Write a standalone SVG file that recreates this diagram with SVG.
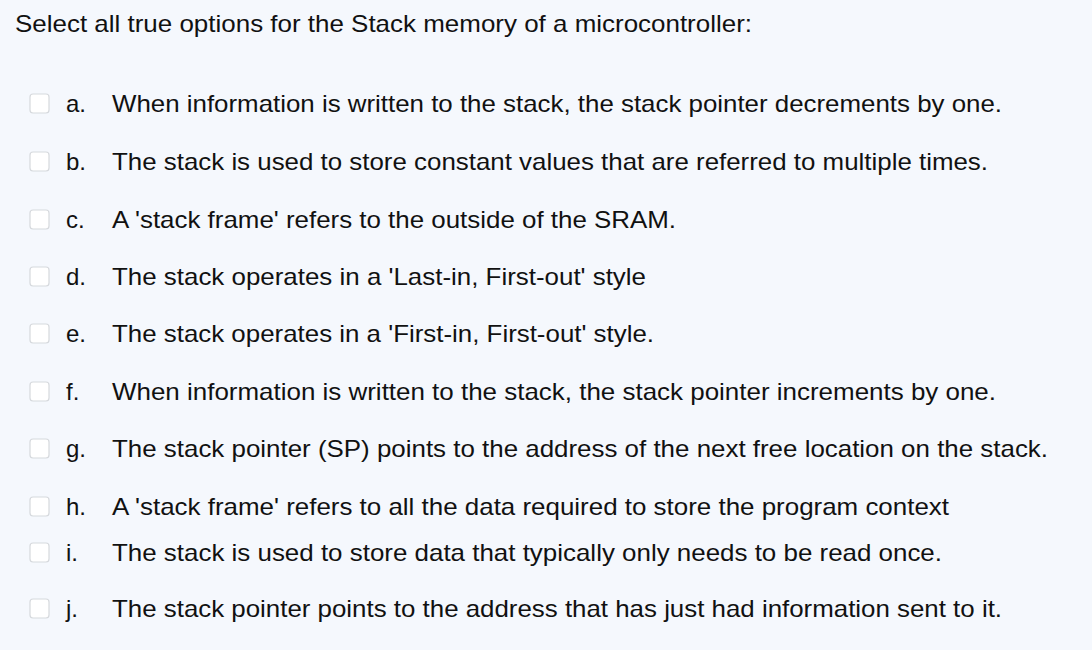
<svg xmlns="http://www.w3.org/2000/svg" width="1092" height="650" viewBox="0 0 1092 650">
<style>
text{font-family:"Liberation Sans",Arial,sans-serif;font-size:24px;fill:#111}
.cb{fill:#fff;stroke:#d6d9dd;stroke-width:1.2}
</style>
<rect width="1092" height="650" fill="#f5f8fd"/>
<text x="15" y="32" textLength="737" lengthAdjust="spacingAndGlyphs">Select all true options for the Stack memory of a microcontroller:</text>
<g id="a"><rect class="cb" x="30" y="94" width="19" height="19" rx="3"/><text x="66" y="112">a.</text><text x="112" y="112" textLength="890" lengthAdjust="spacingAndGlyphs">When information is written to the stack, the stack pointer decrements by one.</text></g>
<g id="b"><rect class="cb" x="30" y="152" width="19" height="19" rx="3"/><text x="66" y="170">b.</text><text x="112" y="170" textLength="876" lengthAdjust="spacingAndGlyphs">The stack is used to store constant values that are referred to multiple times.</text></g>
<g id="c"><rect class="cb" x="30" y="210" width="19" height="19" rx="3"/><text x="66" y="228">c.</text><text x="112" y="228" textLength="564" lengthAdjust="spacingAndGlyphs">A 'stack frame' refers to the outside of the SRAM.</text></g>
<g id="d"><rect class="cb" x="30" y="267" width="19" height="19" rx="3"/><text x="66" y="285">d.</text><text x="112" y="285" textLength="534" lengthAdjust="spacingAndGlyphs">The stack operates in a 'Last-in, First-out' style</text></g>
<g id="e"><rect class="cb" x="30" y="324" width="19" height="19" rx="3"/><text x="66" y="342">e.</text><text x="112" y="342" textLength="542" lengthAdjust="spacingAndGlyphs">The stack operates in a 'First-in, First-out' style.</text></g>
<g id="f"><rect class="cb" x="30" y="382" width="19" height="19" rx="3"/><text x="66" y="400">f.</text><text x="112" y="400" textLength="884" lengthAdjust="spacingAndGlyphs">When information is written to the stack, the stack pointer increments by one.</text></g>
<g id="g"><rect class="cb" x="30" y="439" width="19" height="19" rx="3"/><text x="66" y="457">g.</text><text x="112" y="457" textLength="936" lengthAdjust="spacingAndGlyphs">The stack pointer (SP) points to the address of the next free location on the stack.</text></g>
<g id="h"><rect class="cb" x="30" y="497" width="19" height="19" rx="3"/><text x="66" y="515">h.</text><text x="112" y="515" textLength="837" lengthAdjust="spacingAndGlyphs">A 'stack frame' refers to all the data required to store the program context</text></g>
<g id="i"><rect class="cb" x="30" y="543" width="19" height="19" rx="3"/><text x="66" y="561">i.</text><text x="112" y="561" textLength="830" lengthAdjust="spacingAndGlyphs">The stack is used to store data that typically only needs to be read once.</text></g>
<g id="j"><rect class="cb" x="30" y="599" width="19" height="19" rx="3"/><text x="66" y="617">j.</text><text x="112" y="617" textLength="890" lengthAdjust="spacingAndGlyphs">The stack pointer points to the address that has just had information sent to it.</text></g>
</svg>
